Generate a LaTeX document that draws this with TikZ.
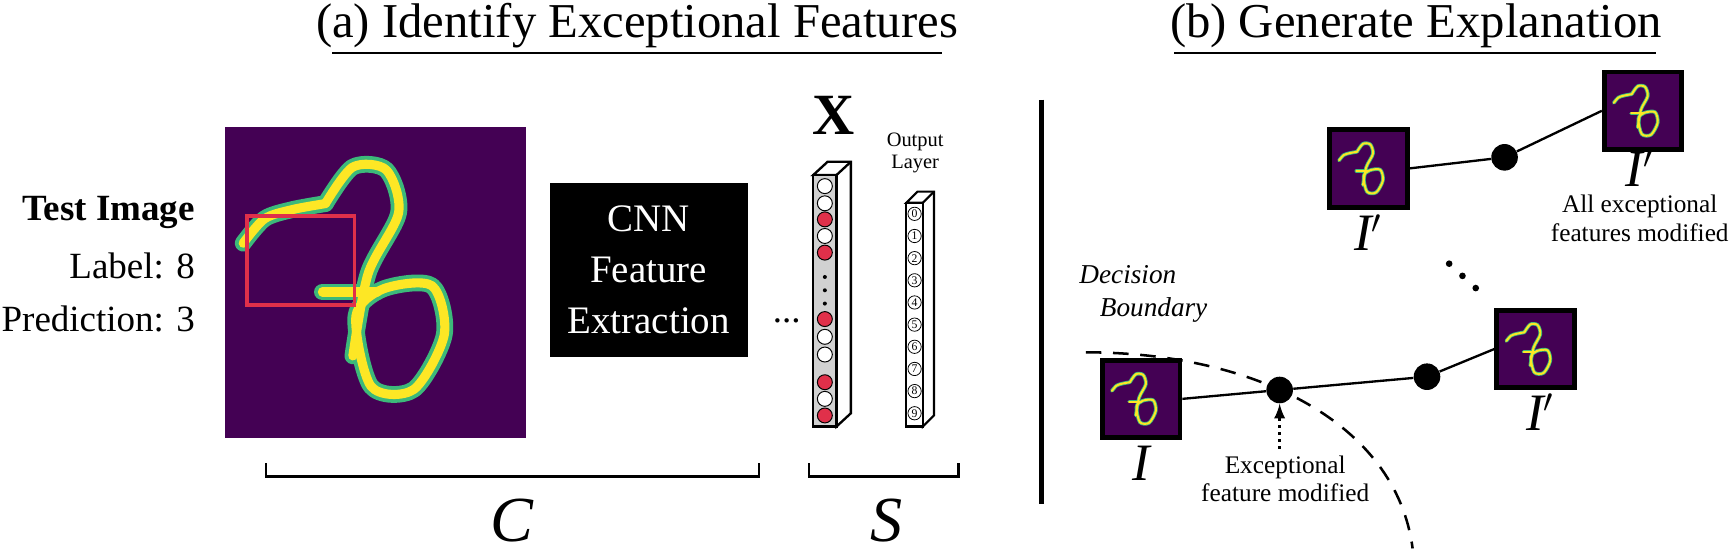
\documentclass[tikz,border=0pt]{standalone}
\usepackage{fontspec}
\setmainfont{Liberation Serif}
\begin{document}
\begin{tikzpicture}[x=0.02cm,y=-0.02cm]
\definecolor{vpur}{HTML}{440154}
\definecolor{vyel}{HTML}{FDE725}
\definecolor{vgrn}{HTML}{3CB97A}
\definecolor{nred}{HTML}{E0304A}
\tikzset{
  ttl/.style={font=\fontsize{25}{25}\selectfont},
  lbl/.style={font=\fontsize{19}{21}\selectfont},
  cw/.style={circle,draw,fill=white,inner sep=0pt,minimum size=13.5*0.02cm,line width=0.5pt},
  cr/.style={cw,fill=nred},
  cn/.style={circle,draw,fill=white,inner sep=0pt,minimum size=12*0.02cm,line width=0.4pt,font=\fontsize{6}{6}\selectfont},
  dotn/.style={circle,fill=black,inner sep=0pt,minimum size=24*0.02cm},
  conn/.style={line width=1.2pt},
  img/.style={draw=black,line width=2.5pt,fill=vpur,inner sep=0pt},
  il/.style={font=\itshape\fontsize{27}{27}\selectfont},
  sm/.style={align=center,font=\fontsize{13}{14.5}\selectfont},
}
\newcommand{\mydigit}[3]{%
 \begin{scope}[shift={(#1,#2)},x=#3*0.02cm,y=-#3*0.02cm]
 \foreach \c/\w in {vgrn/0.055,vyel/0.03}{
 \draw[\c,line width=#3*\w*0.02cm,line cap=round,line join=round]
   plot[smooth] coordinates{(0.06,0.38) (0.13,0.30) (0.22,0.27) (0.33,0.25)};
 \draw[\c,line width=#3*\w*0.02cm,line cap=round,line join=round]
   plot[smooth] coordinates{(0.33,0.25) (0.42,0.13) (0.53,0.14) (0.57,0.28) (0.47,0.48) (0.42,0.75)};
 \draw[\c,line width=#3*\w*0.02cm,line cap=round,line join=round]
   plot[smooth cycle] coordinates{(0.43,0.62) (0.52,0.53) (0.68,0.52) (0.72,0.68) (0.62,0.86) (0.48,0.85)};
 \draw[\c,line width=#3*\w*0.02cm,line cap=round]
   (0.32,0.54) -- (0.5,0.54);}
 \end{scope}}
\useasboundingbox (0,0) rectangle (1566,504);
% titles
\node[ttl] (ta) at (575,23) {(a) Identify Exceptional Features};
\draw[line width=1.2pt] (300,48) -- (850,48);
\node[ttl] (tb) at (1278,23) {(b) Generate Explanation};
\draw[line width=1.2pt] (1060,48) -- (1495,48);
% left labels
\node[anchor=east,font=\bfseries\fontsize{19}{21}\selectfont] (ti) at (182,192) {Test Image};
\node[lbl,anchor=east] (tl) at (182,240) {Label: 8};
\node[lbl,anchor=east] (tp) at (182,288) {Prediction: 3};
% big image
\fill[vpur] (203,115) rectangle (475,395);
\mydigit{203}{115}{275}
\draw[nred,line width=2pt] (223,195) rectangle (320,275);
% CNN
\node[fill=black,text=white,minimum width=179*0.02cm,minimum height=157*0.02cm,align=center,font=\fontsize{20}{26}\selectfont] (cnn) at (585.5,243.5) {CNN\\Feature\\Extraction};
\node[lbl] (dd) at (710,290) {...};
% X column
\draw[line width=1.2pt,fill=white] (734,158) -- (747,146) -- (768,146) -- (768,373) -- (755,385) -- (755,158) -- cycle;
\draw[line width=1.2pt] (755,158) -- (768,146);
\draw[line width=1.2pt,fill=black!18] (734,158) rectangle (755,385);
\foreach \y/\s [count=\i] in {168/cw,183.5/cw,198/cr,213/cw,228/cr,288/cr,304/cw,320/cw,345/cr,360/cw,375/cr}
  \node[\s] (x\i) at (744.5,\y) {};
\foreach \y in {250,262,274} \fill (744.5,\y) circle (1.8);
\node[font=\bfseries\fontsize{30}{30}\selectfont] (xl) at (752,104) {X};
\node[align=center,font=\fontsize{10.5}{11.5}\selectfont] (ol) at (826,138) {Output\\Layer};
% output column
\draw[line width=1.1pt,fill=white] (818,183) -- (828,173) -- (843,173) -- (843,375) -- (833,385) -- (833,183) -- cycle;
\draw[line width=1.1pt] (833,183) -- (843,173);
\draw[line width=1.1pt,fill=white] (818,183) rectangle (833,385);
\foreach \n in {0,...,9} \node[cn] (o\n) at (825.5,193+\n*20) {\n};
% brackets
\draw[line width=1.2pt] (240,418) -- (240,430) -- (685,430) -- (685,418);
\node[font=\itshape\fontsize{33}{33}\selectfont] (cl) at (462,470) {C};
\draw[line width=1.2pt] (730,418) -- (730,430) -- (865,430) -- (865,418);
\node[font=\itshape\fontsize{33}{33}\selectfont] (sl) at (800,470) {S};
% divider
\draw[line width=3pt] (940,90) -- (940,455);
% decision boundary
\draw[line width=1.3pt,dash pattern=on 8pt off 6pt] (980,318) .. controls (1130,318) and (1260,380) .. (1275,495);
\node[align=left,font=\itshape\fontsize{14}{17}\selectfont] (db) at (1032,265) {Decision\\\ \ \ Boundary};
% small images
\node[img,minimum size=70*0.02cm] (i0) at (1030,360) {};
\mydigit{1000}{330}{60}
\node[il] (i0l) at (1030,418) {I};
\node[img,minimum size=70*0.02cm] (i1) at (1386,315) {};
\mydigit{1356}{285}{60}
\node[il] (i1l) at (1390,372) {I$'$};
\node[img,minimum size=70*0.02cm] (i2) at (1235,152) {};
\mydigit{1205}{122}{60}
\node[il] (i2l) at (1235,210) {I$'$};
\node[img,minimum size=70*0.02cm] (i3) at (1483,100) {};
\mydigit{1453}{70}{60}
\node[il] (i3l) at (1480,152) {I$'$};
\node[sm] (i3t) at (1480,197) {All exceptional\\features modified};
% dots
\node[dotn] (d1) at (1155,352) {};
\node[dotn] (d2) at (1288,340) {};
\node[dotn] (d3) at (1358,142) {};
\draw[conn] (i0.east) -- (d1) -- (d2) -- (i1.west);
\draw[conn] (i2.east) -- (d3) -- (i3.west);
\foreach \p in {0,1,2} \fill (1308+\p*12,238+\p*11) circle (3);
\coordinate (ea) at (1155,405);
\draw[dotted,line width=1.6pt,-latex] (ea) -- (d1);
\node[sm] (et) at (1160,432) {Exceptional\\feature modified};
\end{tikzpicture}
\end{document}
